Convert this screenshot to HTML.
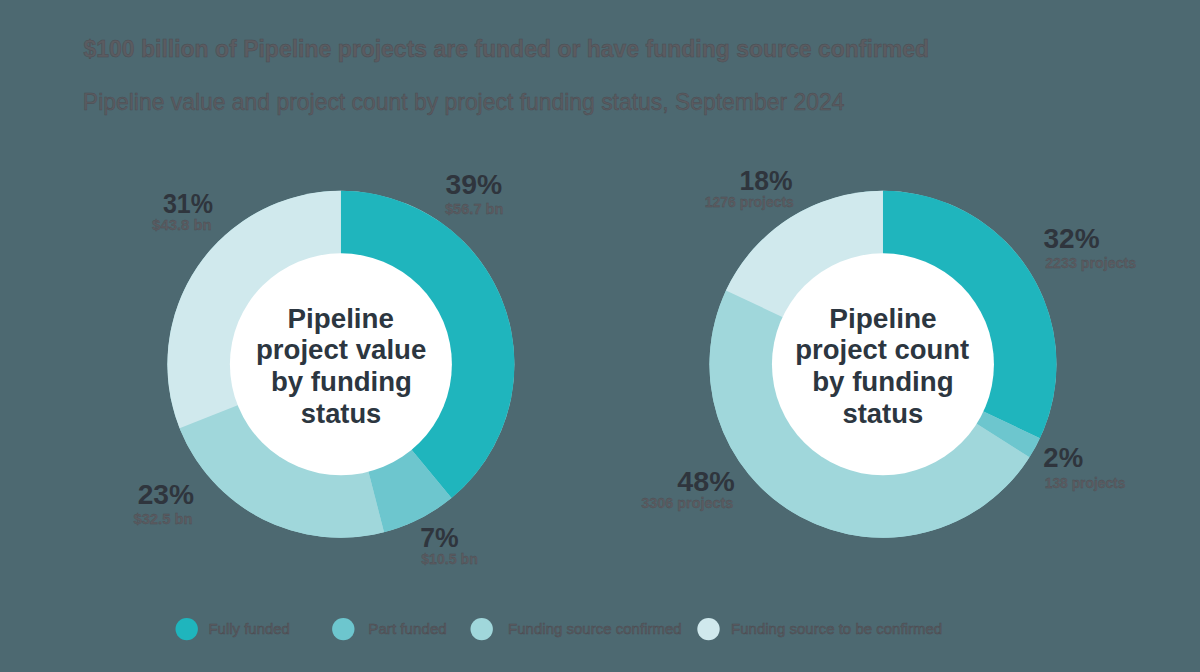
<!DOCTYPE html>
<html><head><meta charset="utf-8"><title>Pipeline funding status</title>
<style>
html,body{margin:0;padding:0;background:#4d6971;}
body{width:1200px;height:672px;overflow:hidden;}
svg{display:block;font-family:"Liberation Sans",sans-serif;}
</style></head><body>
<svg width="1200" height="672" viewBox="0 0 1200 672">
<rect width="1200" height="672" fill="#4d6971"/>
<circle cx="340.9" cy="364.3" r="173.5" fill="#a0d7db"/>
<path d="M340.9 364.3L340.90 190.80A173.5 173.5 0 0 1 451.49 497.98Z" fill="#1fb5bd"/>
<path d="M340.9 364.3L451.49 497.98A173.5 173.5 0 0 1 384.05 532.35Z" fill="#6dc6ce"/>
<path d="M340.9 364.3L384.05 532.35A173.5 173.5 0 0 1 179.58 428.17Z" fill="#a0d7db"/>
<path d="M340.9 364.3L179.58 428.17A173.5 173.5 0 0 1 340.90 190.80Z" fill="#d0e9ed"/>
<circle cx="340.9" cy="364.3" r="111.0" fill="#ffffff"/>
<circle cx="882.95" cy="364.3" r="173.5" fill="#a0d7db"/>
<path d="M882.95 364.3L882.95 190.80A173.5 173.5 0 0 1 1039.94 438.17Z" fill="#1fb5bd"/>
<path d="M882.95 364.3L1039.94 438.17A173.5 173.5 0 0 1 1029.44 457.27Z" fill="#6dc6ce"/>
<path d="M882.95 364.3L1029.44 457.27A173.5 173.5 0 0 1 725.96 290.43Z" fill="#a0d7db"/>
<path d="M882.95 364.3L725.96 290.43A173.5 173.5 0 0 1 882.95 190.80Z" fill="#d0e9ed"/>
<circle cx="882.95" cy="364.3" r="111.0" fill="#ffffff"/>
<circle cx="186.7" cy="629.1" r="11.2" fill="#1fb5bd"/>
<circle cx="343.3" cy="629.1" r="11.2" fill="#6dc6ce"/>
<circle cx="481.7" cy="629.1" r="11.2" fill="#a0d7db"/>
<circle cx="708.5" cy="629.1" r="11.2" fill="#d0e9ed"/>
<text x="83.46" y="57.4" font-size="24" font-weight="700" fill="#5b5c61" stroke="#4b4c52" stroke-width="0.5" textLength="845.64" lengthAdjust="spacingAndGlyphs">$100 billion of Pipeline projects are funded or have funding source confirmed</text>
<text x="82.87" y="109.6" font-size="24" font-weight="400" fill="#5b5c61" stroke="#4b4c52" stroke-width="0.5" textLength="761.52" lengthAdjust="spacingAndGlyphs">Pipeline value and project count by project funding status, September 2024</text>
<text x="287.59" y="328" font-size="27" font-weight="700" fill="#2c3640" textLength="106.33" lengthAdjust="spacingAndGlyphs">Pipeline</text>
<text x="255.95" y="359.4" font-size="27" font-weight="700" fill="#2c3640" textLength="170.34" lengthAdjust="spacingAndGlyphs">project value</text>
<text x="271.01" y="391.2" font-size="27" font-weight="700" fill="#2c3640" textLength="140.97" lengthAdjust="spacingAndGlyphs">by funding</text>
<text x="300.85" y="422.6" font-size="27" font-weight="700" fill="#2c3640" textLength="80.47" lengthAdjust="spacingAndGlyphs">status</text>
<text x="829.19" y="328" font-size="27" font-weight="700" fill="#2c3640" textLength="107.47" lengthAdjust="spacingAndGlyphs">Pipeline</text>
<text x="795.35" y="359.4" font-size="27" font-weight="700" fill="#2c3640" textLength="173.90" lengthAdjust="spacingAndGlyphs">project count</text>
<text x="812.16" y="391.2" font-size="27" font-weight="700" fill="#2c3640" textLength="141.45" lengthAdjust="spacingAndGlyphs">by funding</text>
<text x="842.40" y="422.6" font-size="27" font-weight="700" fill="#2c3640" textLength="80.80" lengthAdjust="spacingAndGlyphs">status</text>
<text x="445.53" y="194.4" font-size="27.5" font-weight="700" fill="#2f353d" textLength="56.66" lengthAdjust="spacingAndGlyphs">39%</text>
<text x="444.96" y="213.6" font-size="14.5" font-weight="700" fill="#5b5c61" stroke="#4b4c52" stroke-width="0.3" textLength="58.52" lengthAdjust="spacingAndGlyphs">$56.7 bn</text>
<text x="162.92" y="213.10000000000002" font-size="27.5" font-weight="700" fill="#2f353d" textLength="50.16" lengthAdjust="spacingAndGlyphs">31%</text>
<text x="152.14" y="230.2" font-size="14.5" font-weight="700" fill="#5b5c61" stroke="#4b4c52" stroke-width="0.3" textLength="59.45" lengthAdjust="spacingAndGlyphs">$43.8 bn</text>
<text x="137.67" y="504.3" font-size="27.5" font-weight="700" fill="#2f353d" textLength="56.41" lengthAdjust="spacingAndGlyphs">23%</text>
<text x="133.42" y="523.5" font-size="14.5" font-weight="700" fill="#5b5c61" stroke="#4b4c52" stroke-width="0.3" textLength="59.24" lengthAdjust="spacingAndGlyphs">$32.5 bn</text>
<text x="420.23" y="547.4" font-size="27.5" font-weight="700" fill="#2f353d" textLength="38.44" lengthAdjust="spacingAndGlyphs">7%</text>
<text x="421.25" y="564.4000000000001" font-size="14.5" font-weight="700" fill="#5b5c61" stroke="#4b4c52" stroke-width="0.3" textLength="56.58" lengthAdjust="spacingAndGlyphs">$10.5 bn</text>
<text x="739.53" y="190.10000000000002" font-size="27.5" font-weight="700" fill="#2f353d" textLength="53.05" lengthAdjust="spacingAndGlyphs">18%</text>
<text x="704.87" y="207.0" font-size="14.5" font-weight="700" fill="#5b5c61" stroke="#4b4c52" stroke-width="0.3" textLength="88.96" lengthAdjust="spacingAndGlyphs">1276 projects</text>
<text x="1043.52" y="247.60000000000002" font-size="27.5" font-weight="700" fill="#2f353d" textLength="56.07" lengthAdjust="spacingAndGlyphs">32%</text>
<text x="1045.16" y="267.5" font-size="14.5" font-weight="700" fill="#5b5c61" stroke="#4b4c52" stroke-width="0.3" textLength="91.09" lengthAdjust="spacingAndGlyphs">2233 projects</text>
<text x="1043.37" y="467.3" font-size="27.5" font-weight="700" fill="#2f353d" textLength="39.80" lengthAdjust="spacingAndGlyphs">2%</text>
<text x="1044.74" y="487.7" font-size="14.5" font-weight="700" fill="#5b5c61" stroke="#4b4c52" stroke-width="0.3" textLength="80.66" lengthAdjust="spacingAndGlyphs">138 projects</text>
<text x="677.22" y="490.6" font-size="27.5" font-weight="700" fill="#2f353d" textLength="57.42" lengthAdjust="spacingAndGlyphs">48%</text>
<text x="641.18" y="508.2" font-size="14.5" font-weight="700" fill="#5b5c61" stroke="#4b4c52" stroke-width="0.3" textLength="92.10" lengthAdjust="spacingAndGlyphs">3306 projects</text>
<text x="208.49" y="634.4" font-size="15" font-weight="400" fill="#5b5c61" stroke="#4b4c52" stroke-width="0.5" textLength="81.39" lengthAdjust="spacingAndGlyphs">Fully funded</text>
<text x="368.30" y="634.4" font-size="15" font-weight="400" fill="#5b5c61" stroke="#4b4c52" stroke-width="0.5" textLength="78.50" lengthAdjust="spacingAndGlyphs">Part funded</text>
<text x="508.07" y="634.4" font-size="15" font-weight="400" fill="#5b5c61" stroke="#4b4c52" stroke-width="0.5" textLength="173.63" lengthAdjust="spacingAndGlyphs">Funding source confirmed</text>
<text x="731.07" y="634.4" font-size="15" font-weight="400" fill="#5b5c61" stroke="#4b4c52" stroke-width="0.5" textLength="211.10" lengthAdjust="spacingAndGlyphs">Funding source to be confirmed</text>
</svg>
</body></html>
